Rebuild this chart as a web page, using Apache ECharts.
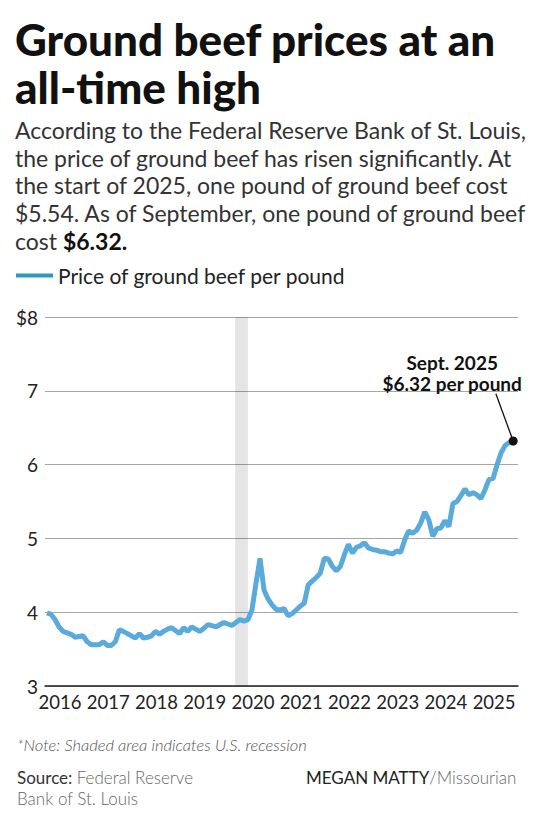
<!DOCTYPE html>
<html>
<head>
<meta charset="utf-8">
<script src="https://cdn.jsdelivr.net/npm/echarts@6/dist/echarts.min.js"></script>
<style>
  html, body { margin: 0; padding: 0; background: #fff; }
  #chart { width: 540px; height: 817px; }
</style>
</head>
<body>
<div id="chart"></div>
<script>
// monthly price of ground beef per pound, Jan 2016 - Sept 2025
const prices = [
  3.99, 3.97, 3.90, 3.80, 3.74, 3.72, 3.70, 3.66, 3.67, 3.68, 3.60, 3.56, // 2016
  3.56, 3.56, 3.60, 3.55, 3.55, 3.60, 3.76, 3.74, 3.71, 3.68, 3.65, 3.71, // 2017
  3.65, 3.66, 3.68, 3.74, 3.70, 3.74, 3.77, 3.79, 3.75, 3.71, 3.79, 3.74, // 2018
  3.80, 3.77, 3.74, 3.78, 3.83, 3.82, 3.80, 3.83, 3.86, 3.84, 3.82, 3.86, // 2019
  3.90, 3.88, 3.90, 4.03, 4.39, 4.73, 4.30, 4.18, 4.10, 4.04, 4.03, 4.05, // 2020
  3.95, 3.98, 4.03, 4.08, 4.12, 4.37, 4.42, 4.47, 4.53, 4.73, 4.72, 4.62, // 2021
  4.56, 4.62, 4.78, 4.92, 4.80, 4.88, 4.90, 4.94, 4.87, 4.85, 4.84, 4.82, // 2022
  4.82, 4.80, 4.79, 4.83, 4.81, 4.98, 5.10, 5.07, 5.11, 5.21, 5.36, 5.25, // 2023
  5.03, 5.13, 5.14, 5.24, 5.16, 5.47, 5.50, 5.58, 5.67, 5.59, 5.62, 5.59, // 2024
  5.54, 5.66, 5.80, 5.81, 6.00, 6.16, 6.26, 6.30, 6.32                    // 2025
]
const yearLabels = ['2016', '2017', '2018', '2019', '2020', '2021', '2022', '2023', '2024', '2025']
const yTicks = [3, 4, 5, 6, 7, 8]
// shaded recession, in months since Jan 2016 (as drawn)
const recession = [46.8, 50]
const seriesName = 'Price of ground beef per pound'
const lastLabel = ['Sept. 2025', '$6.32 per pound']

const font = 'Lato, "Noto Sans", sans-serif'
const lastIdx = prices.length - 1

const chart = echarts.init(document.getElementById('chart'), null, { renderer: 'svg' })

const options = {
  animation: false,
  textStyle: { fontFamily: font },
  title: [
    {
      text: 'Ground beef prices at an\nall-time high',
      left: 15,
      top: 15,
      padding: 0,
      textStyle: { fontFamily: font, fontSize: 44, fontWeight: 900, lineHeight: 48, color: '#111' }
    },
    {
      text: [
        '{n|According to the Federal Reserve Bank of St. Louis,}',
        '{n|the price of ground beef has risen significantly. At}',
        '{n|the start of 2025, one pound of ground beef cost}',
        '{n|$5.54. As of September, one pound of ground beef}',
        '{n|cost }{b|$6.32.}'
      ].join('\n'),
      left: 15,
      top: 116,
      padding: 0,
      textStyle: {
        rich: {
          n: { fontFamily: font, fontSize: 23, fontWeight: 'normal', color: '#333', lineHeight: 27.7 },
          b: { fontFamily: font, fontSize: 23, fontWeight: 'bold', color: '#111', lineHeight: 27.7 }
        }
      }
    },
    {
      text: '*Note: Shaded area indicates U.S. recession',
      left: 17,
      top: 736,
      padding: 0,
      textStyle: { fontFamily: font, fontSize: 16.5, fontStyle: 'italic', fontWeight: 300, color: '#555', lineHeight: 18 }
    },
    {
      text: '{s|Source:} {l|Federal Reserve}\n{l|Bank of St. Louis}',
      left: 17,
      top: 767,
      padding: 0,
      textStyle: {
        rich: {
          s: { fontFamily: font, fontSize: 17, fontWeight: 'normal', color: '#333', lineHeight: 21 },
          l: { fontFamily: font, fontSize: 17, fontWeight: 300, color: '#666', lineHeight: 21 }
        }
      }
    },
    {
      text: '{s|MEGAN MATTY}{l|/Missourian}',
      left: 306,
      top: 767,
      padding: 0,
      textStyle: {
        rich: {
          s: { fontFamily: font, fontSize: 17, fontWeight: 'normal', color: '#222', lineHeight: 21 },
          l: { fontFamily: font, fontSize: 17, fontWeight: 300, color: '#666', lineHeight: 21 }
        }
      }
    }
  ],
  legend: {
    left: 16,
    top: 265,
    padding: 0,
    icon: 'rect',
    itemWidth: 37,
    itemHeight: 4,
    itemGap: 8,
    textStyle: { fontFamily: font, fontSize: 21, color: '#222' },
    data: [{ name: seriesName, itemStyle: { color: '#2e98c5' } }]
  },
  grid: { left: 45, right: 22, top: 317, bottom: 131 },
  xAxis: {
    type: 'value',
    min: -0.5,
    max: 117.2,
    splitLine: { show: false },
    axisTick: { show: false },
    axisLine: { lineStyle: { color: '#222', width: 1.5 } },
    axisLabel: {
      customValues: yearLabels.map((y, i) => i * 12 + 3.25),
      formatter: v => yearLabels[Math.round((v - 3.25) / 12)],
      fontFamily: font,
      fontSize: 18.5,
      color: '#222',
      margin: 6
    }
  },
  yAxis: {
    type: 'value',
    min: yTicks[0],
    max: yTicks[yTicks.length - 1],
    interval: 1,
    axisLine: { show: false },
    axisTick: { show: false },
    splitLine: { lineStyle: { color: '#a6a6a6', width: 1 } },
    axisLabel: {
      formatter: v => (v === yTicks[yTicks.length - 1] ? '$' + v : String(v)),
      fontFamily: font,
      fontSize: 19,
      color: '#222',
      margin: 7
    }
  },
  series: [
    {
      name: seriesName,
      type: 'line',
      data: prices.map((v, i) => [i, v]),
      showSymbol: false,
      lineStyle: { color: '#5aabdc', width: 5 },
      itemStyle: { color: '#5aabdc' },
      markArea: {
        silent: true,
        itemStyle: { color: 'rgba(0,0,0,0.1)' },
        data: [[{ xAxis: recession[0] }, { xAxis: recession[1] }]]
      },
      markLine: {
        silent: true,
        symbol: ['none', 'none'],
        lineStyle: { color: '#111', width: 1.3, type: 'solid' },
        label: { show: false },
        data: [[{ coord: [lastIdx, prices[lastIdx]] }, { coord: [lastIdx - 4.3, 6.96] }]]
      },
      markPoint: {
        silent: true,
        symbol: 'circle',
        symbolSize: 9,
        itemStyle: { color: '#111' },
        label: {
          show: true,
          position: 'top',
          offset: [-61, -37],
          align: 'center',
          formatter: lastLabel.map(t => '{a|' + t + '}').join('\n'),
          rich: {
            a: { fontFamily: font, fontSize: 19, fontWeight: 'bold', color: '#111', lineHeight: 21, align: 'center' }
          }
        },
        data: [{ coord: [lastIdx, prices[lastIdx]] }]
      }
    }
  ]
}

chart.setOption(options)
window.addEventListener('resize', function () {
  chart && chart.resize()
})
</script>
</body>
</html>
